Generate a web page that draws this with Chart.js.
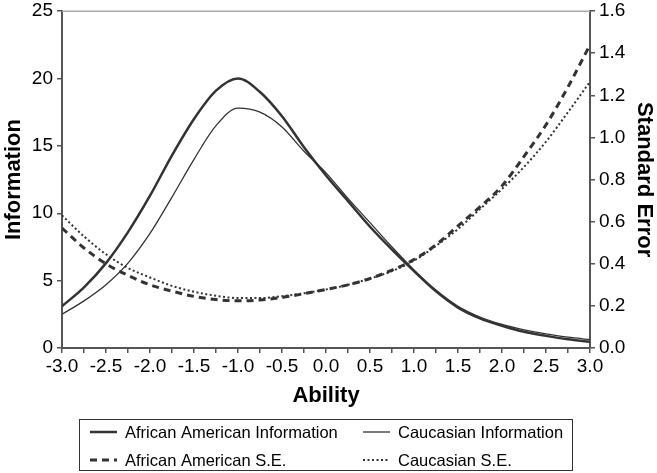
<!DOCTYPE html>
<html>
<head>
<meta charset="utf-8">
<script src="https://cdn.jsdelivr.net/npm/chart.js@4.4.0/dist/chart.umd.min.js"></script>
<style>
  body { margin: 0; background: #fff; }
</style>
</head>
<body>
<canvas id="myChart" width="657" height="473"></canvas>
<script>
// data
const ability = [-3.0, -2.75, -2.5, -2.25, -2.0, -1.75, -1.5, -1.25, -1.0, -0.75, -0.5, -0.25, 0.0,
  0.25, 0.5, 0.75, 1.0, 1.25, 1.5, 1.75, 2.0, 2.25, 2.5, 2.75, 3.0]
const aaInfo = [3.1, 4.5, 6.3, 8.6, 11.3, 14.3, 17.0, 19.1, 20.0, 19.0, 17.2, 14.9, 12.8,
  10.9, 9.0, 7.3, 5.7, 4.2, 3.0, 2.2, 1.65, 1.2, 0.9, 0.65, 0.47]
const cauInfo = [2.5, 3.5, 4.7, 6.3, 8.5, 11.2, 14.0, 16.5, 17.8, 17.5, 16.4, 14.6, 13.0,
  11.1, 9.3, 7.5, 5.8, 4.3, 3.1, 2.3, 1.75, 1.35, 1.05, 0.8, 0.63]
const aaSE = [0.57, 0.475, 0.40, 0.345, 0.30, 0.27, 0.245, 0.23, 0.224, 0.228, 0.24, 0.258, 0.278,
  0.30, 0.33, 0.37, 0.42, 0.49, 0.58, 0.67, 0.77, 0.91, 1.06, 1.24, 1.44]
const cauSE = [0.63, 0.53, 0.445, 0.38, 0.335, 0.295, 0.267, 0.248, 0.237, 0.237, 0.246, 0.26, 0.278,
  0.30, 0.33, 0.365, 0.415, 0.485, 0.565, 0.66, 0.755, 0.86, 0.98, 1.12, 1.265]

const xLabels = ['-3.0', '-2.5', '-2.0', '-1.5', '-1.0', '-0.5', '0.0', '0.5', '1.0', '1.5', '2.0', '2.5', '3.0']
const infoTicks = [0, 5, 10, 15, 20, 25]
const seTicks = [0.0, 0.2, 0.4, 0.6, 0.8, 1.0, 1.2, 1.4, 1.6]

const legendNames = ['African American Information', 'Caucasian Information', 'African American S.E.', 'Caucasian S.E.']

Chart.defaults.font.family = "'Liberation Sans', Arial, sans-serif"
Chart.defaults.color = '#000'

function pts(arr) {
  return ability.map((x, i) => ({ x: x, y: arr[i] }))
}

const lineColor = '#333'

// boxed legend under the plot
const legendBox = {
  id: 'legendBox',
  afterDraw(chart) {
    const c = chart.ctx
    const sets = chart.data.datasets
    const spots = [[90, 432], [363, 432], [90, 460], [363, 460]]
    c.save()
    c.strokeStyle = '#333'
    c.lineWidth = 1
    c.strokeRect(79.5, 419.5, 493, 51)
    c.font = "16.5px 'Liberation Sans', Arial, sans-serif"
    c.textBaseline = 'middle'
    c.fillStyle = '#000'
    sets.forEach((ds, i) => {
      const [x, y] = spots[i]
      c.beginPath()
      c.strokeStyle = ds.borderColor
      c.lineWidth = ds.borderWidth
      c.setLineDash(ds.borderDash || [])
      c.moveTo(x, y)
      c.lineTo(x + 27, y)
      c.stroke()
      c.setLineDash([])
      c.fillText(ds.label, x + 35, y + 1)
    })
    c.restore()
  }
}

// light frame line along the top of the plot
const topLine = {
  id: 'topLine',
  beforeDatasetsDraw(chart) {
    const a = chart.chartArea
    const c = chart.ctx
    c.save()
    c.strokeStyle = '#aaa'
    c.lineWidth = 1.5
    c.beginPath()
    c.moveTo(a.left, a.top)
    c.lineTo(a.right, a.top)
    c.stroke()
    c.restore()
  }
}

const ctx = document.getElementById('myChart')

new Chart(ctx, {
  type: 'line',
  data: {
    datasets: [
      { label: legendNames[0], data: pts(aaInfo), yAxisID: 'y', borderColor: lineColor, borderWidth: 2.5 },
      { label: legendNames[1], data: pts(cauInfo), yAxisID: 'y', borderColor: lineColor, borderWidth: 1.3 },
      { label: legendNames[2], data: pts(aaSE), yAxisID: 'y1', borderColor: lineColor, borderWidth: 3, borderDash: [7, 5] },
      { label: legendNames[3], data: pts(cauSE), yAxisID: 'y1', borderColor: lineColor, borderWidth: 2, borderDash: [2, 2.5] }
    ]
  },
  options: {
    responsive: false,
    devicePixelRatio: 1,
    animation: false,
    layout: { padding: { top: 11, bottom: 61, left: 0, right: 0 } },
    elements: {
      point: { radius: 0 },
      line: { cubicInterpolationMode: 'monotone', fill: false }
    },
    plugins: {
      legend: { display: false },
      tooltip: { enabled: false }
    },
    scales: {
      x: {
        type: 'linear',
        position: 'bottom',
        min: -3,
        max: 3,
        afterFit: s => { s.height = 64 },
        ticks: {
          stepSize: 0.25,
          autoSkip: false,
          maxRotation: 0,
          padding: 2,
          font: { size: 19 },
          callback: v => {
            const s = v.toFixed(1)
            return Math.abs(v * 2 - Math.round(v * 2)) < 1e-9 && xLabels.includes(s) ? s : ''
          }
        },
        grid: { drawOnChartArea: false, tickLength: 5, color: '#555', lineWidth: 1.5 },
        border: { color: '#555', width: 2 },
        title: { display: true, text: 'Ability', font: { size: 22, weight: 'bold' }, padding: { top: 0, bottom: 3 } }
      },
      y: {
        position: 'left',
        min: 0,
        max: 25,
        afterFit: s => { s.width = 62 },
        afterBuildTicks: s => { s.ticks = infoTicks.map(v => ({ value: v })) },
        ticks: { padding: 4, font: { size: 19, lineHeight: 0.75 } },
        grid: { drawOnChartArea: false, tickLength: 5, color: '#555', lineWidth: 1.5 },
        border: { color: '#555', width: 2 },
        title: { display: true, text: 'Information', font: { size: 22, weight: 'bold' }, padding: { top: 1, bottom: 0 } }
      },
      y1: {
        position: 'right',
        min: 0,
        max: 1.6,
        afterFit: s => { s.width = 67 },
        afterBuildTicks: s => { s.ticks = seTicks.map(v => ({ value: v })) },
        ticks: { padding: 4, font: { size: 19, lineHeight: 0.75 }, callback: v => v.toFixed(1) },
        grid: { drawOnChartArea: false, tickLength: 5, color: '#555', lineWidth: 1.5 },
        border: { color: '#555', width: 2 },
        title: { display: true, text: 'Standard Error', font: { size: 22, weight: 'bold' }, padding: { top: 0, bottom: 0 } }
      }
    }
  },
  plugins: [legendBox, topLine]
});
</script>
</body>
</html>
